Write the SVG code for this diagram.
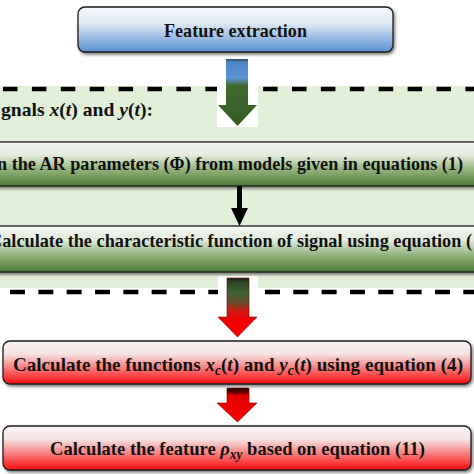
<svg xmlns="http://www.w3.org/2000/svg" width="474" height="474" viewBox="0 0 474 474">
<defs>
<style>
.t{font-family:"Liberation Serif","Times New Roman",serif;font-weight:bold;font-size:19.5px;fill:#111}
.i{font-style:italic}
.box{stroke:#1c1c1c;stroke-width:1.3}
.dash{stroke:#000;stroke-width:4.5;fill:none}
</style>
<linearGradient id="gBlue" x1="0" y1="0" x2="0" y2="1">
<stop offset="0" stop-color="#f5f8fc"/><stop offset="0.35" stop-color="#e2eaf5"/><stop offset="1" stop-color="#5890d2"/>
</linearGradient>
<linearGradient id="gGreen" x1="0" y1="0" x2="0" y2="1">
<stop offset="0" stop-color="#f5f7f3"/><stop offset="0.3" stop-color="#e3ebdd"/><stop offset="0.62" stop-color="#95b57f"/><stop offset="1" stop-color="#4a7a30"/>
</linearGradient>
<linearGradient id="gRed" x1="0" y1="0" x2="0" y2="1">
<stop offset="0" stop-color="#f8f3f3"/><stop offset="0.3" stop-color="#f6e3e3"/><stop offset="0.65" stop-color="#f77777"/><stop offset="1" stop-color="#ff0808"/>
</linearGradient>
<linearGradient id="gA1" gradientUnits="userSpaceOnUse" x1="0" y1="59" x2="0" y2="126">
<stop offset="0" stop-color="#34506e"/><stop offset="0.05" stop-color="#4f86c8"/><stop offset="0.28" stop-color="#5b96d8"/><stop offset="0.40" stop-color="#3f6a2e"/><stop offset="1" stop-color="#365b24"/>
</linearGradient>
<linearGradient id="gA2" gradientUnits="userSpaceOnUse" x1="0" y1="278" x2="0" y2="337">
<stop offset="0" stop-color="#1c2418"/><stop offset="0.09" stop-color="#2f4a27"/><stop offset="0.25" stop-color="#3d6330"/><stop offset="0.42" stop-color="#6b4a2a"/><stop offset="0.55" stop-color="#c81c14"/><stop offset="0.7" stop-color="#f00000"/><stop offset="1" stop-color="#ff0000"/>
</linearGradient>
<linearGradient id="gA3" gradientUnits="userSpaceOnUse" x1="0" y1="388" x2="0" y2="422">
<stop offset="0" stop-color="#2a0000"/><stop offset="0.12" stop-color="#5a0000"/><stop offset="0.22" stop-color="#e00000"/><stop offset="1" stop-color="#ff0000"/>
</linearGradient>
<filter id="sh" x="-5%" y="-20%" width="110%" height="150%">
<feDropShadow dx="1.5" dy="2" stdDeviation="1.5" flood-color="#000" flood-opacity="0.5"/>
</filter>
</defs>
<rect width="474" height="474" fill="#fff"/>
<g id="panel">
<rect x="-5" y="86" width="484" height="202" fill="#e2efd9"/>
<line class="dash" x1="3" y1="89" x2="474" y2="89" stroke-dasharray="14.5 14.4"/>
<line class="dash" x1="10" y1="292" x2="474" y2="292" stroke-dasharray="15 13.33"/>
<rect x="217" y="84" width="41" height="43" fill="#fff"/>
<rect x="218" y="276" width="40" height="62" fill="#fff"/>
</g>
<g id="node-feature-extraction">
<rect class="box" x="78" y="7" width="315" height="45" rx="7" fill="url(#gBlue)" filter="url(#sh)"/>
<text class="t" x="164" y="37" textLength="143" lengthAdjust="spacingAndGlyphs">Feature extraction</text>
</g>
<g id="node-signals">
<text class="t" x="1" y="116" textLength="152" lengthAdjust="spacingAndGlyphs">gnals <tspan class="i">x</tspan>(<tspan class="i">t</tspan>) and <tspan class="i">y</tspan>(<tspan class="i">t</tspan>):</text>
</g>
<g id="node-ar">
<rect class="box" x="-10" y="142" width="494" height="44" fill="url(#gGreen)" filter="url(#sh)"/>
<text class="t" x="-3" y="170" textLength="466" lengthAdjust="spacingAndGlyphs">n the AR parameters (Φ) from models given in equations (1)</text>
</g>
<g id="node-characteristic">
<rect class="box" x="-10" y="226" width="494" height="46" fill="url(#gGreen)" filter="url(#sh)"/>
<text class="t" x="-11" y="247" textLength="483" lengthAdjust="spacingAndGlyphs">Calculate the characteristic function of signal using equation (</text>
</g>
<g id="node-functions">
<rect class="box" x="3" y="341" width="468" height="43" rx="7" fill="url(#gRed)" filter="url(#sh)"/>
<text class="t" x="13" y="371" textLength="450" lengthAdjust="spacingAndGlyphs">Calculate the functions <tspan class="i">x</tspan><tspan class="i" dy="4" font-size="14">c</tspan><tspan dy="-4">(</tspan><tspan class="i">t</tspan>) and <tspan class="i">y</tspan><tspan class="i" dy="4" font-size="14">c</tspan><tspan dy="-4">(</tspan><tspan class="i">t</tspan>) using equation (4)</text>
</g>
<g id="node-feature">
<rect class="box" x="3" y="426" width="468" height="44" rx="7" fill="url(#gRed)" filter="url(#sh)"/>
<text class="t" x="50" y="455" textLength="375" lengthAdjust="spacingAndGlyphs">Calculate the feature <tspan class="i">ρ</tspan><tspan class="i" dy="4" font-size="14">xy</tspan><tspan dy="-4"> based on equation (11)</tspan></text>
</g>
<g id="connectors">
<polygon points="226,59 248,59 248,105 257,105 237.5,126 218,105 226,105" fill="url(#gA1)"/>
<polygon points="237,186 242,186 242,208 248,208 239.5,226 231,208 237,208" fill="#000"/>
<polygon points="227,278 249,278 249,317 257,317 237.5,337 218,317 227,317" fill="url(#gA2)" stroke="#7a0000" stroke-width="0.6"/>
<polygon points="227,388 249,388 249,403 257,403 237.5,422 217,403 227,403" fill="url(#gA3)" stroke="#7a0000" stroke-width="0.6"/>
</g>
</svg>
